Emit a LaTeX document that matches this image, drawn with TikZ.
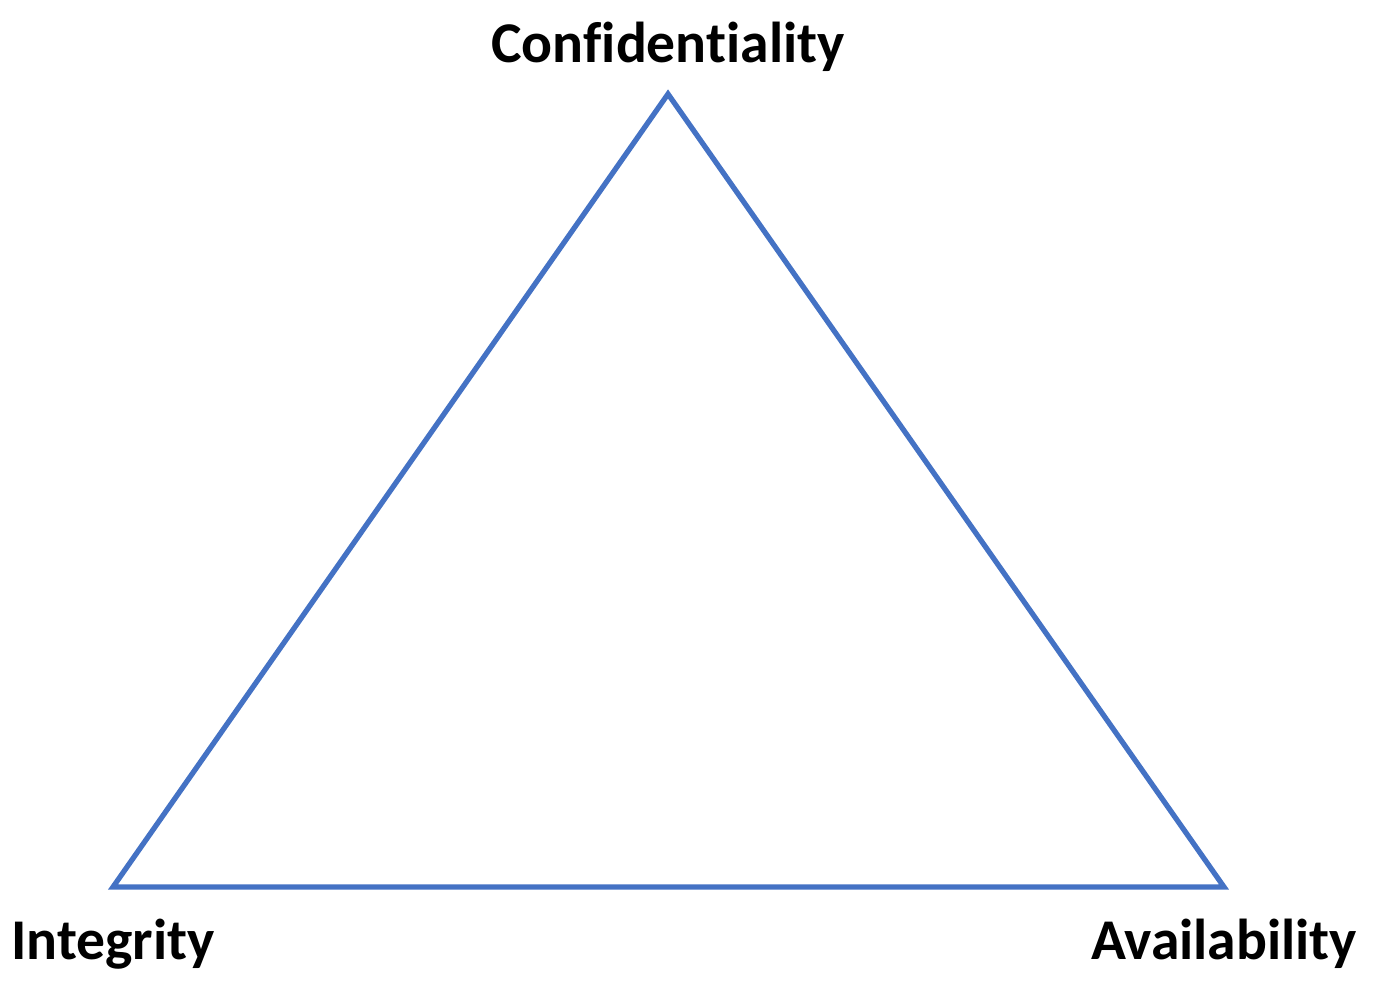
\documentclass[tikz,border=0pt]{standalone}
\usepackage{fontspec}
\setmainfont[Ligatures=NoCommon]{Carlito}
\definecolor{ciablue}{HTML}{4472C4}
\begin{document}
\begin{tikzpicture}[every label/.style={font=\fontsize{32.8}{39}\selectfont\bfseries,inner sep=0pt}]
	\useasboundingbox (0,0) rectangle (27.52,19.72);
	\node[inner sep=0pt,label={[label distance=0.42cm]above:Confidentiality}] (C) at (13.36,17.84) {};
	\node[inner sep=0pt,label={[label distance=0.6cm]below:Integrity}] (I) at (2.26,1.98) {};
	\node[inner sep=0pt,label={[label distance=0.6cm]below:Availability}] (A) at (24.48,1.98) {};
	\draw[ciablue,line width=3pt] (C.center) -- (I.center) -- (A.center) -- cycle;
\end{tikzpicture}
\end{document}
